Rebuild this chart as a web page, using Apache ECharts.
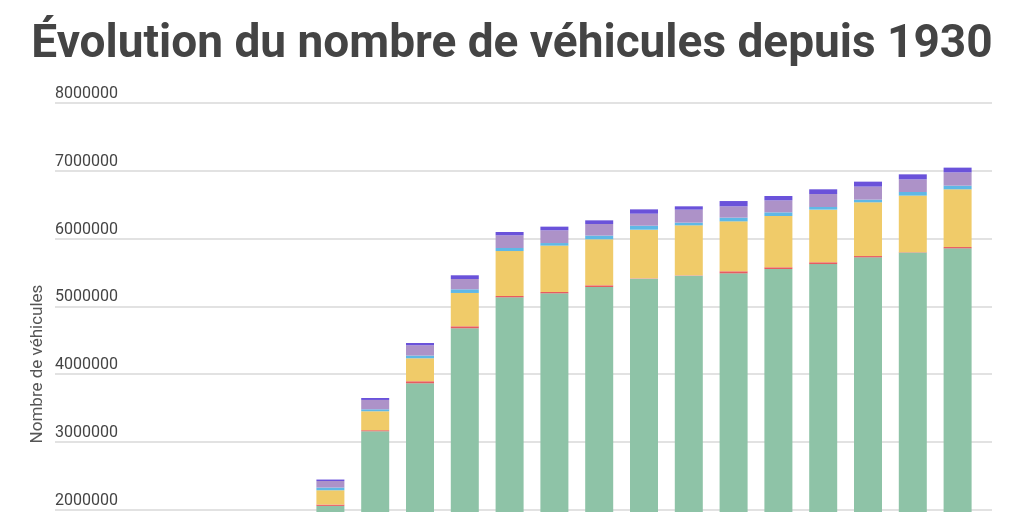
<!DOCTYPE html>
<html>
<head>
<meta charset="utf-8">
<script src="https://cdn.jsdelivr.net/npm/echarts@6/dist/echarts.min.js"></script>
<style>
  html, body { margin: 0; padding: 0; overflow: hidden; background: #fff; }
  #chart { width: 1024px; height: 700px; }
</style>
</head>
<body>
<div id="chart"></div>
<script>
// years (the axis labels fall below the visible frame)
var years = ['1930', '1940', '1950', '1960', '1965', '1970', '1980', '1990', '2000',
  '2010', '2011', '2012', '2013', '2014', '2015', '2016', '2017', '2018', '2019', '2020'];

// stacked from bottom to top
var voitures   = [90000, 150000, 280000, 750000, 1500000, 2053000, 3155000, 3863000, 4675000, 5132000,
  5191000, 5284000, 5407000, 5452000, 5486000, 5550000, 5623000, 5722000, 5792000, 5855000];
var autobus    = [3000, 4000, 8000, 10000, 12000, 20000, 15000, 30000, 29000, 19000,
  19000, 25000, 5000, 5000, 30000, 25000, 26000, 19000, 5000, 19000];
var camions    = [50000, 60000, 120000, 180000, 200000, 211000, 280000, 339000, 492000, 664000,
  685000, 679000, 718000, 737000, 737000, 757000, 777000, 793000, 836000, 852000];
var tracteurs  = [5000, 8000, 15000, 25000, 30000, 40000, 29000, 40000, 54000, 45000,
  38000, 55000, 59000, 40000, 55000, 54000, 39000, 40000, 53000, 54000];
var motos      = [40000, 50000, 60000, 80000, 90000, 97000, 138000, 152000, 152000, 187000,
  188000, 171000, 177000, 192000, 167000, 177000, 191000, 192000, 187000, 196000];
var autres     = [10000, 10000, 15000, 18000, 20000, 21000, 29000, 34000, 55000, 49000,
  54000, 54000, 64000, 49000, 78000, 64000, 70000, 73000, 74000, 70000];

var yTicks = { min: 0, max: 8000000, step: 1000000 };

var chart = echarts.init(document.getElementById('chart'));

function barSeries(name, data, color) {
  return {
    name: name,
    type: 'bar',
    stack: 'total',
    xAxisIndex: 1,
    yAxisIndex: 1,
    barWidth: 28,
    itemStyle: { color: color },
    data: data
  };
}

var options = {
  animation: false,
  backgroundColor: '#fff',
  textStyle: { fontFamily: 'Roboto' },
  title: {
    text: 'Évolution du nombre de véhicules depuis 1930',
    left: 'center',
    top: 17,
    textStyle: { fontSize: 46, fontWeight: 'bold', color: '#444', fontFamily: 'Roboto' }
  },
  graphic: [{
    type: 'text',
    x: 38,
    y: 364,
    rotation: Math.PI / 2,
    style: {
      text: 'Nombre de véhicules',
      fill: '#555',
      font: '17px Roboto',
      align: 'center',
      verticalAlign: 'middle'
    }
  }],
  grid: [
    { left: 55, right: 32, top: 103, bottom: 55 },
    { left: 84, right: 44, top: 103, bottom: 55 }
  ],
  xAxis: [
    { gridIndex: 0, type: 'category', data: years, show: false },
    {
      gridIndex: 1,
      type: 'category',
      data: years,
      axisLine: { show: false },
      axisTick: { show: false },
      axisLabel: { color: '#555', fontSize: 14 }
    }
  ],
  yAxis: [
    {
      gridIndex: 0,
      type: 'value',
      min: yTicks.min,
      max: yTicks.max,
      interval: yTicks.step,
      axisLine: { show: false },
      axisTick: { show: false },
      axisLabel: {
        inside: true,
        margin: 0,
        align: 'left',
        verticalAlign: 'bottom',
        padding: [0, 0, 1, 0],
        fontSize: 16,
        color: '#444',
        formatter: function (v) { return String(v); }
      },
      splitLine: { show: true, lineStyle: { color: '#e2e2e2', width: 2 } }
    },
    {
      gridIndex: 1,
      type: 'value',
      min: yTicks.min,
      max: yTicks.max,
      interval: yTicks.step,
      show: false,
      splitLine: { show: false }
    }
  ],
  series: [
    barSeries('Voitures', voitures, '#8ec3a7'),
    barSeries('Autobus et autocars', autobus, '#e85b60'),
    barSeries('Camions et camionnettes', camions, '#f0cb69'),
    barSeries('Tracteurs', tracteurs, '#5fb8e6'),
    barSeries('Motocyclettes', motos, '#ad92c8'),
    barSeries('Autres', autres, '#6a52da')
  ]
};

chart.setOption(options);
</script>
</body>
</html>
